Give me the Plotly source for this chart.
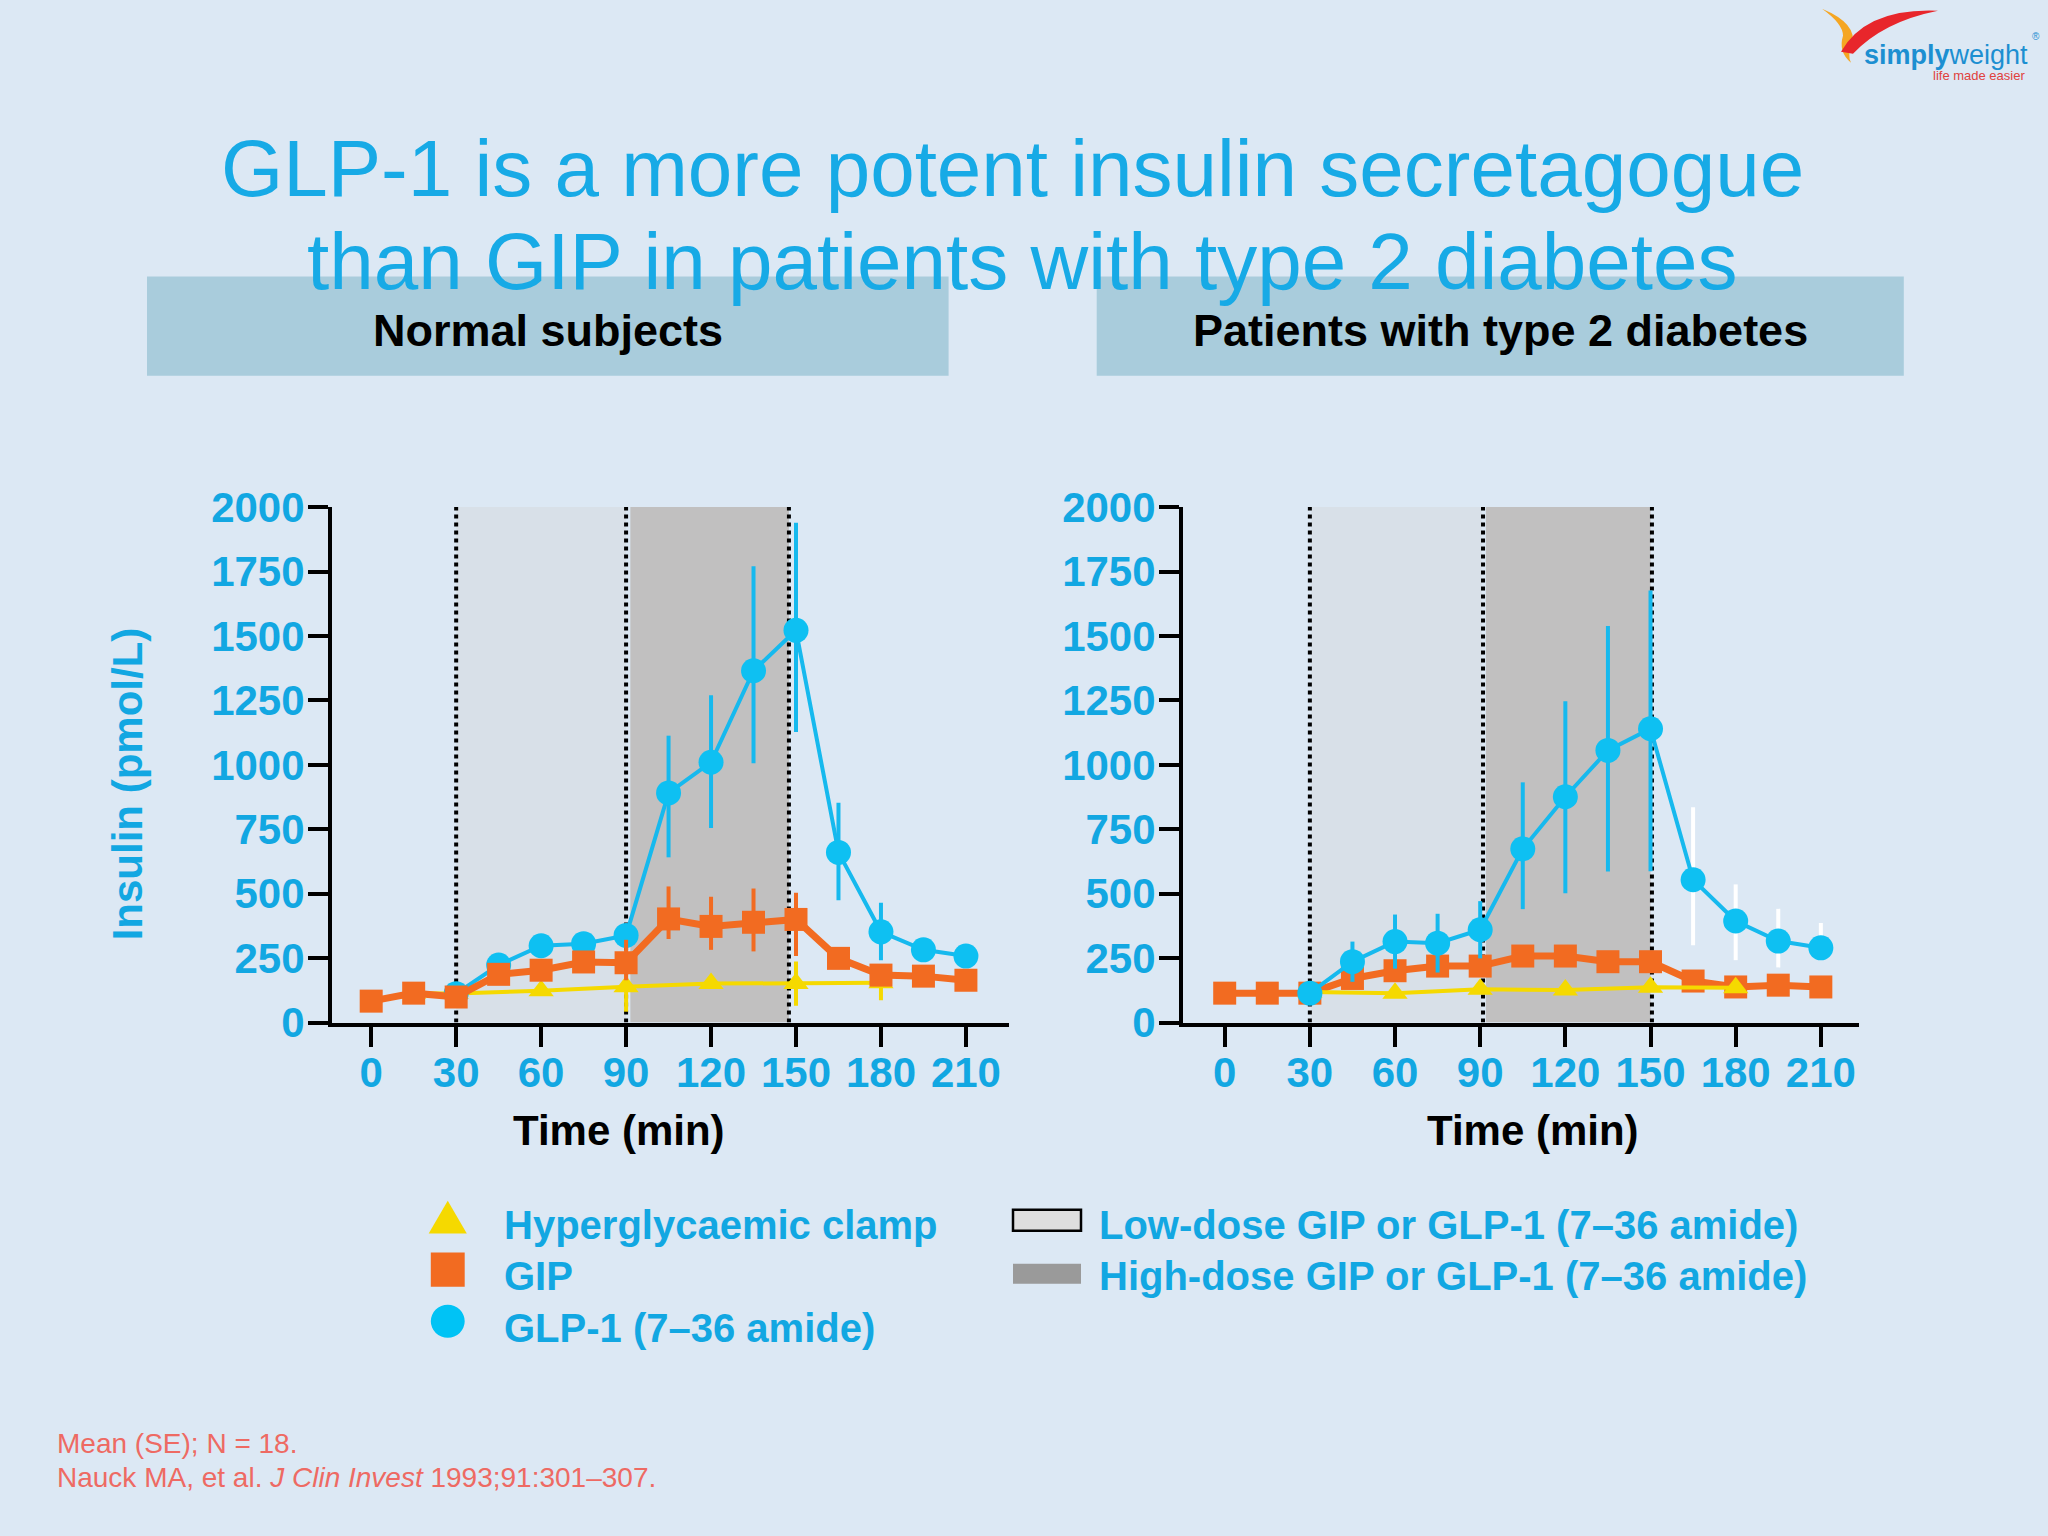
import plotly.graph_objects as go

W, H = 2048, 1536
FONT = "Liberation Sans, Arial, sans-serif"
BLUE_TXT = "#12A7E2"
TITLE_BLUE = "#17AAE6"
ORANGE = "#F26B21"
YELLOW = "#F5D900"
CYAN = "#0EC0F2"
CYAN_LINE = "#16B9EE"
BG = "#DCE8F4"

# ---------------- data ----------------
time_ticks = [0, 30, 60, 90, 120, 150, 180, 210]
insulin_ticks = [0, 250, 500, 750, 1000, 1250, 1500, 1750, 2000]

gip_t = [0, 15, 30, 45, 60, 75, 90, 105, 120, 135, 150, 165, 180, 195, 210]
glp_t = [30, 45, 60, 75, 90, 105, 120, 135, 150, 165, 180, 195, 210]

# Normal subjects
normal_gip = [83, 114, 99, 187, 203, 235, 232, 402, 373, 389, 400, 249, 184, 180, 164]
normal_gip_up = [0, 0, 0, 0, 0, 0, 89, 126, 115, 131, 104, 0, 0, 0, 0]
normal_gip_dn = [0, 0, 0, 0, 0, 0, 68, 78, 91, 113, 142, 0, 0, 0, 0]

normal_glp = [112, 223, 298, 306, 338, 891, 1010, 1365, 1522, 660, 352, 282, 258]
normal_glp_up = [0, 0, 0, 0, 0, 222, 260, 405, 417, 193, 113, 0, 0]
normal_glp_dn = [0, 0, 0, 0, 0, 250, 255, 359, 395, 186, 110, 0, 0]

normal_clamp_t = [15, 30, 60, 90, 120, 150, 180]
normal_clamp = [114, 113, 123, 139, 151, 151, 154]
normal_clamp_err = [0, 0, 0, 97, 0, 86, 68]

# Patients with type 2 diabetes
diab_gip = [114, 114, 114, 171, 201, 219, 219, 258, 258, 236, 236, 161, 138, 145, 138]

diab_glp = [114, 236, 314, 308, 360, 674, 876, 1056, 1140, 554, 394, 316, 290]
diab_glp_up = [0, 78, 105, 114, 111, 258, 371, 483, 536, 281, 142, 125, 96]
diab_glp_dn = [0, 78, 105, 114, 111, 234, 374, 470, 553, 254, 152, 102, 45]
diab_glp_white_from = 165  # error bars drawn in white from this time on

diab_clamp_t = [30, 60, 90, 120, 150, 180]
diab_clamp = [118, 114, 129, 126, 137, 135]

# infusion periods (min) and marker lines
normal_low = (30, 90)
normal_high = (91.5, 147.5)
normal_lines = [30, 90, 147.5]
diab_low = (30.5, 90.5)
diab_high = (92, 150)
diab_lines = [30, 91, 150.5]

title_lines = ["GLP-1 is a more potent insulin secretagogue",
               "than GIP in patients with type 2 diabetes"]
panel_titles = ["Normal subjects", "Patients with type 2 diabetes"]
legend_markers = ["Hyperglycaemic clamp", "GIP", "GLP-1 (7–36 amide)"]
legend_boxes = ["Low-dose GIP or GLP-1 (7–36 amide)", "High-dose GIP or GLP-1 (7–36 amide)"]
y_title = "Insulin (pmol/L)"
x_title = "Time (min)"
footnotes = ["Mean (SE); N = 18.",
             "Nauck MA, et al. <i>J Clin Invest</i> 1993;91:301–307."]

# vertical placement correction (measured from a test render)
VS, VOFF = 0.9686, 23.3


def px(x):
    return x / W


def py(y):
    return 1 - ((y - VOFF) / VS) / H


fig = go.Figure()


def add_series(t, v, up, dn, color, lw, symbol, size, xa, ya, err_color=None,
               mode="lines+markers", line_color=None):
    fig.add_trace(go.Scatter(
        x=t, y=v, mode=mode, xaxis=xa, yaxis=ya,
        line=dict(color=line_color or color, width=lw),
        marker=dict(symbol=symbol, size=size, color=color, line=dict(width=0)),
        error_y=dict(type="data", symmetric=False, array=up, arrayminus=dn,
                     color=err_color or color, thickness=4, width=0),
        cliponaxis=False, showlegend=False, hoverinfo="skip"))


# Left panel: clamp, GLP-1, GIP
add_series(normal_clamp_t, normal_clamp, normal_clamp_err, normal_clamp_err,
           YELLOW, 4, "triangle-up", 22, "x", "y")
add_series(glp_t, normal_glp, normal_glp_up, normal_glp_dn, CYAN, 4, "circle", 25,
           "x", "y", err_color=CYAN_LINE, line_color=CYAN_LINE)
add_series(gip_t, normal_gip, normal_gip_up, normal_gip_dn, ORANGE, 7, "square", 23, "x", "y")

# Right panel: GIP, clamp, GLP-1
zeros = [0] * len(gip_t)
add_series(gip_t, diab_gip, zeros, zeros, ORANGE, 7, "square", 23, "x2", "y2")
add_series(diab_clamp_t, diab_clamp, [0] * len(diab_clamp_t), [0] * len(diab_clamp_t),
           YELLOW, 4, "triangle-up", 22, "x2", "y2")
white = [t >= diab_glp_white_from for t in glp_t]
w_up = [e if w else 0 for e, w in zip(diab_glp_up, white)]
w_dn = [e if w else 0 for e, w in zip(diab_glp_dn, white)]
b_up = [0 if w else e for e, w in zip(diab_glp_up, white)]
b_dn = [0 if w else e for e, w in zip(diab_glp_dn, white)]
fig.add_trace(go.Scatter(
    x=glp_t, y=diab_glp, mode="markers", xaxis="x2", yaxis="y2",
    marker=dict(size=1, color="rgba(0,0,0,0)"),
    error_y=dict(type="data", symmetric=False, array=w_up, arrayminus=w_dn,
                 color="white", thickness=4, width=0),
    cliponaxis=False, showlegend=False, hoverinfo="skip"))
add_series(glp_t, diab_glp, b_up, b_dn, CYAN, 4, "circle", 25, "x2", "y2",
           err_color=CYAN_LINE, line_color=CYAN_LINE)

# ---------------- axes ----------------
tickfont = dict(family=FONT, size=42, color=BLUE_TXT, weight="bold")
xcommon = dict(tickvals=time_ticks, ticks="outside", ticklen=20, tickwidth=4,
               tickcolor="black", showline=True, linewidth=4, linecolor="black",
               showgrid=False, zeroline=False, tickfont=tickfont, ticklabelstandoff=-10)
ycommon = dict(tickvals=insulin_ticks, range=[0, 2000], ticks="outside", ticklen=20,
               tickwidth=4, tickcolor="black", showline=True, linewidth=4,
               linecolor="black", showgrid=False, zeroline=False, tickfont=tickfont,
               ticklabelstandoff=-5)
ydom = [py(1022), py(507)]

shapes = []
# header boxes
for x0, x1 in [(147, 948.6), (1096.7, 1903.8)]:
    shapes.append(dict(type="rect", xref="paper", yref="paper", x0=px(x0), x1=px(x1),
                       y0=py(375.7), y1=py(276.7), fillcolor="#A9CCDC",
                       line=dict(width=0), layer="below"))

for xa, ya, low, high, lines in [("x", "y", normal_low, normal_high, normal_lines),
                                 ("x2", "y2", diab_low, diab_high, diab_lines)]:
    shapes.append(dict(type="rect", xref=xa, yref=ya, x0=low[0], x1=low[1], y0=0, y1=2000,
                       fillcolor="#D8E0E8", line=dict(width=0), layer="below"))
    shapes.append(dict(type="rect", xref=xa, yref=ya, x0=high[0], x1=high[1], y0=0, y1=2000,
                       fillcolor="#C1C0C0", line=dict(width=0), layer="below"))
    for lx in lines:
        shapes.append(dict(type="line", xref=xa, yref=ya, x0=lx, x1=lx, y0=0, y1=2000,
                           line=dict(color="black", width=4, dash="dot"), layer="below"))

# legend symbols
shapes.append(dict(type="path", xref="paper", yref="paper",
                   path=f"M {px(428.7)},{py(1232.7)} L {px(466.8)},{py(1232.7)} "
                        f"L {px(447.75)},{py(1200)} Z",
                   fillcolor=YELLOW, line=dict(width=0)))
shapes.append(dict(type="rect", xref="paper", yref="paper", x0=px(430.8), x1=px(464.7),
                   y0=py(1286), y1=py(1251.7), fillcolor=ORANGE, line=dict(width=0)))
shapes.append(dict(type="circle", xref="paper", yref="paper", x0=px(430.8), x1=px(464.7),
                   y0=py(1337), y1=py(1304), fillcolor="#00C3F5", line=dict(width=0)))
shapes.append(dict(type="rect", xref="paper", yref="paper", x0=px(1013), x1=px(1081),
                   y0=py(1230), y1=py(1209), fillcolor="#DEDEDE",
                   line=dict(width=2.5, color="black")))
shapes.append(dict(type="rect", xref="paper", yref="paper", x0=px(1013), x1=px(1081),
                   y0=py(1283), y1=py(1263), fillcolor="#9A9A9A", line=dict(width=0)))

# logo swoosh
shapes.append(dict(type="path", xref="paper", yref="paper",
                   path=f"M {px(1822)},{py(9)} Q {px(1858)},{py(24)} {px(1852)},{py(45)} "
                        f"Q {px(1847)},{py(55)} {px(1851)},{py(63)} "
                        f"Q {px(1838)},{py(52)} {px(1843)},{py(36)} "
                        f"Q {px(1843)},{py(24)} {px(1822)},{py(9)} Z",
                   fillcolor="#F5A623", line=dict(width=0)))
shapes.append(dict(type="path", xref="paper", yref="paper",
                   path=f"M {px(1841)},{py(52)} Q {px(1866)},{py(8)} {px(1938)},{py(11)} "
                        f"Q {px(1883)},{py(22)} {px(1853)},{py(54)} Z",
                   fillcolor="#E8262B", line=dict(width=0)))

ann = []


def text(x, y, s, size, color, xanchor="center", bold=False, angle=0):
    ann.append(dict(x=px(x), y=py(y), xref="paper", yref="paper", text=s,
                    showarrow=False, xanchor=xanchor, yanchor="middle", textangle=angle,
                    font=dict(family=FONT, size=size, color=color,
                              weight="bold" if bold else "normal")))


text(1012, 169, title_lines[0], 80, TITLE_BLUE)
text(1022, 262, title_lines[1], 80, TITLE_BLUE)
text(548, 331, panel_titles[0], 45, "black", bold=True)
text(1500, 331, panel_titles[1], 45, "black", bold=True)
text(127, 784, y_title, 42, BLUE_TXT, bold=True, angle=-90)
text(619, 1130, x_title, 42, "black", bold=True)
text(1533, 1130, x_title, 42, "black", bold=True)
for i, s in enumerate(legend_markers):
    text(501.5, [1224, 1275, 1327][i], s, 40, BLUE_TXT, xanchor="left", bold=True)
for i, s in enumerate(legend_boxes):
    text(1097, [1224, 1275][i], s, 40, BLUE_TXT, xanchor="left", bold=True)
text(55, 1443, footnotes[0], 28, "#EE6A63", xanchor="left")
text(55, 1477, footnotes[1], 28, "#EE6A63", xanchor="left")
# logo text
text(1862, 55, "<b>simply</b>weight", 27, "#1C8FD1", xanchor="left")
text(2027, 76, "life made easier", 13, "#E0413C", xanchor="right")
text(2030, 37, "®", 10, "#1C8FD1", xanchor="left")

fig.update_layout(
    width=W, height=H, margin=dict(l=0, r=0, t=0, b=0),
    paper_bgcolor=BG, plot_bgcolor="rgba(0,0,0,0)",
    xaxis=dict(domain=[px(332), px(1008.6)], range=[-13.84, 225.07], anchor="y", **xcommon),
    yaxis=dict(domain=ydom, anchor="x", **ycommon),
    xaxis2=dict(domain=[px(1183), px(1858.6)], range=[-14.69, 223.3], anchor="y2", **xcommon),
    yaxis2=dict(domain=ydom, anchor="x2", **ycommon),
    shapes=shapes, annotations=ann, showlegend=False,
)

fig.write_html("out.html")
